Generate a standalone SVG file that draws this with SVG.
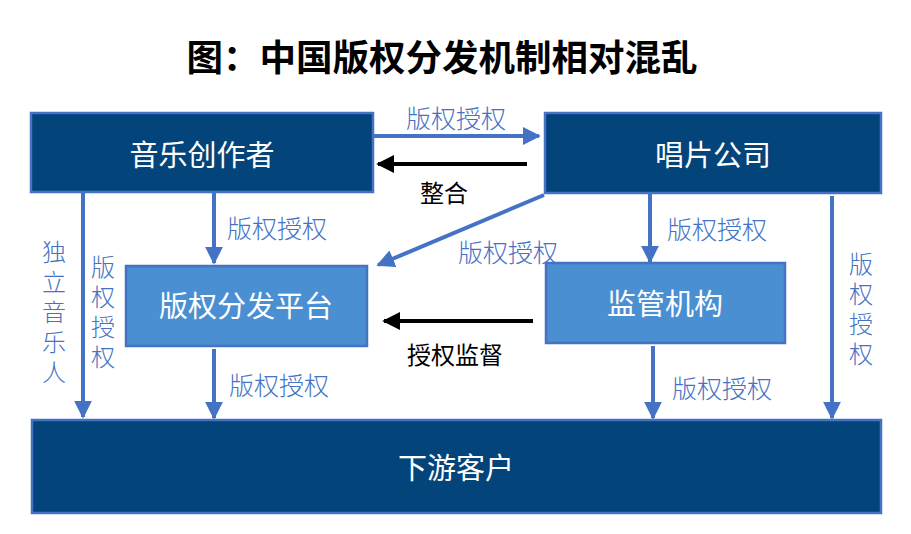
<svg xmlns="http://www.w3.org/2000/svg" width="911" height="534" viewBox="0 0 911 534">
<style>
.dark{fill:#03457B;stroke:#4472C4;stroke-width:2.5}
.mid{fill:#4A8FD2;stroke:#4472C4;stroke-width:2.5}
.nt{font-family:"Noto Sans CJK SC","Noto Sans CJK JP",sans-serif;font-size:29px;fill:#FFFFFF;text-anchor:middle;dominant-baseline:central}
.bl{font-family:"Noto Sans CJK SC","Noto Sans CJK JP",sans-serif;font-size:25px;fill:#4472C4;dominant-baseline:central;font-weight:300}
.bk{font-family:"Noto Sans CJK SC","Noto Sans CJK JP",sans-serif;font-size:24px;fill:#000000;dominant-baseline:central}
.vt{writing-mode:vertical-rl;letter-spacing:6px;font-size:24px}
.title{font-family:"Noto Sans CJK SC","Noto Sans CJK JP",sans-serif;font-size:36.5px;font-weight:bold;fill:#000;text-anchor:middle;dominant-baseline:central}
.cb{stroke:#4472C4;stroke-width:4;fill:none}
.ck{stroke:#000;stroke-width:4;fill:none}
</style>
<defs>
<marker id="ab" viewBox="0 0 10 10" refX="9" refY="5" markerWidth="4.5" markerHeight="4.5" markerUnits="strokeWidth" orient="auto"><path d="M0,0 L10,5 L0,10 z" fill="#4472C4"/></marker>
<marker id="ak" viewBox="0 0 10 10" refX="9" refY="5" markerWidth="4.5" markerHeight="4.5" markerUnits="strokeWidth" orient="auto"><path d="M0,0 L10,5 L0,10 z" fill="#000"/></marker>
</defs>
<rect width="911" height="534" fill="#FFFFFF"/>
<text class="title" x="442" y="55">图：中国版权分发机制相对混乱</text>

<g id="connectors">
<line class="cb" x1="374" y1="136" x2="539" y2="136" marker-end="url(#ab)"/>
<line class="ck" x1="527" y1="164" x2="378" y2="164" marker-end="url(#ak)"/>
<line class="cb" x1="214" y1="193" x2="214" y2="263" marker-end="url(#ab)"/>
<line class="cb" x1="544" y1="195" x2="378" y2="265" marker-end="url(#ab)"/>
<line class="cb" x1="650" y1="194" x2="650" y2="262" marker-end="url(#ab)"/>
<line class="cb" x1="83" y1="193" x2="83" y2="417" marker-end="url(#ab)"/>
<line class="cb" x1="832" y1="196" x2="832" y2="418" marker-end="url(#ab)"/>
<line class="cb" x1="214" y1="349" x2="214" y2="418" marker-end="url(#ab)"/>
<line class="cb" x1="653" y1="346" x2="653" y2="418" marker-end="url(#ab)"/>
<line class="ck" x1="533" y1="321" x2="384" y2="321" marker-end="url(#ak)"/>
<text class="bl" x="406" y="117">版权授权</text>
<text class="bk" x="420" y="191">整合</text>
<text class="bl" x="227" y="227">版权授权</text>
<text class="bl" x="458" y="251">版权授权</text>
<text class="bl" x="667" y="228">版权授权</text>
<text class="bl" x="229" y="384">版权授权</text>
<text class="bl" x="672" y="387">版权授权</text>
<text class="bk" x="407" y="353">授权监督</text>
<text class="bl vt" x="54" y="240">独立音乐人</text>
<text class="bl vt" x="103" y="255">版权授权</text>
<text class="bl vt" x="861" y="252">版权授权</text>
</g>

<g id="node-creator">
<rect class="dark" x="31" y="113" width="342" height="79"/>
<text class="nt" x="202" y="153">音乐创作者</text>
</g>
<g id="node-label">
<rect class="dark" x="545" y="113" width="336" height="80"/>
<text class="nt" x="713" y="153">唱片公司</text>
</g>
<g id="node-platform">
<rect class="mid" x="126" y="266" width="241" height="80"/>
<text class="nt" x="246" y="304">版权分发平台</text>
</g>
<g id="node-regulator">
<rect class="mid" x="546" y="263" width="239" height="80"/>
<text class="nt" x="665" y="302">监管机构</text>
</g>
<g id="node-downstream">
<rect class="dark" x="32" y="420" width="849" height="93"/>
<text class="nt" x="456" y="466">下游客户</text>
</g>
</svg>
